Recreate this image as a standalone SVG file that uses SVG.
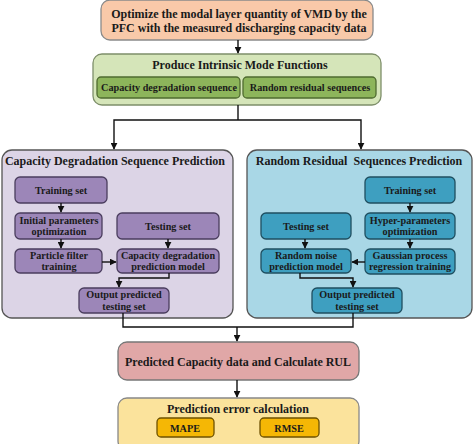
<svg xmlns="http://www.w3.org/2000/svg" width="474" height="444" viewBox="0 0 474 444">
<defs>
<marker id="ah" viewBox="0 0 10 10" refX="9" refY="5" markerWidth="5" markerHeight="5" orient="auto"><path d="M0,0 L10,5 L0,10 z" fill="#111"/></marker>
<style>
text{font-family:"Liberation Serif","Times New Roman",serif;font-weight:bold;fill:#1a1a1a;text-anchor:middle}
.t{font-size:12px}
.s{font-size:10.2px}
.c{fill:none;stroke:#111;stroke-width:1.4;marker-end:url(#ah)}
.l{fill:none;stroke:#111;stroke-width:1.4}
.or{fill:#f9c9a9;stroke:#8a8a8a;stroke-width:1.3}
.gO{fill:#d5e5b9;stroke:#7e8f6a;stroke-width:1.3}
.gI{fill:#8db55b;stroke:#4f6b30;stroke-width:1.3}
.pO{fill:#dcd4e6;stroke:#555;stroke-width:1.3}
.pI{fill:#9c86b8;stroke:#4a3d5e;stroke-width:1.3}
.bO{fill:#a9d7e6;stroke:#555;stroke-width:1.3}
.bI{fill:#3e9fc0;stroke:#1f4f60;stroke-width:1.3}
.rd{fill:#e0a7a7;stroke:#777;stroke-width:1.3}
.yO{fill:#fbe39c;stroke:#888;stroke-width:1.3}
.yI{fill:#f5b705;stroke:#6e5200;stroke-width:1.3}
</style>
</defs>
<g id="top">
<rect class="or" x="101" y="0" width="272" height="40" rx="9"/>
<text class="t" x="239" y="18">Optimize the modal layer quantity of VMD by the</text>
<text class="t" x="239" y="32">PFC with the measured discharging capacity data</text>
</g>
<g id="imf">
<rect class="gO" x="93" y="54" width="288" height="51" rx="9"/>
<text class="t" x="240" y="69">Produce Intrinsic Mode Functions</text>
<rect class="gI" x="97" y="77" width="143" height="21" rx="4"/>
<text class="s" x="169" y="91">Capacity degradation sequence</text>
<rect class="gI" x="243" y="77" width="133" height="21" rx="4"/>
<text class="s" x="310" y="91">Random residual sequences</text>
</g>
<g id="left">
<rect class="pO" x="2" y="150" width="231" height="168" rx="10"/>
<text class="t" x="115" y="165">Capacity Degradation Sequence Prediction</text>
</g>
<g id="l-train"><rect class="pI" x="15" y="177" width="92" height="26" rx="5"/><text class="s" x="61" y="194">Training set</text></g>
<g id="l-init"><rect class="pI" x="15" y="213" width="87" height="26" rx="5"/><text class="s" x="59" y="224">Initial parameters</text><text class="s" x="59" y="235">optimization</text></g>
<g id="l-test"><rect class="pI" x="117" y="213" width="102" height="26" rx="5"/><text class="s" x="168" y="230">Testing set</text></g>
<g id="l-pf"><rect class="pI" x="15" y="249" width="87" height="24" rx="5"/><text class="s" x="59" y="259">Particle filter</text><text class="s" x="59" y="270">training</text></g>
<g id="l-model"><rect class="pI" x="117" y="249" width="102" height="24" rx="5"/><text class="s" x="168" y="259">Capacity degradation</text><text class="s" x="168" y="270">prediction model</text></g>
<g id="l-out"><rect class="pI" x="79" y="288" width="90" height="25" rx="5"/><text class="s" x="124" y="298">Output predicted</text><text class="s" x="124" y="310">testing set</text></g>
<g id="right">
<rect class="bO" x="247" y="150" width="225" height="168" rx="10"/>
<text class="t" x="359" y="165" style="white-space:pre">Random Residual  Sequences Prediction</text>
</g>
<g id="r-train"><rect class="bI" x="365" y="177" width="90" height="26" rx="5"/><text class="s" x="410" y="194">Training set</text></g>
<g id="r-hyper"><rect class="bI" x="365" y="213" width="90" height="26" rx="5"/><text class="s" x="410" y="224">Hyper-parameters</text><text class="s" x="410" y="235">optimization</text></g>
<g id="r-test"><rect class="bI" x="261" y="213" width="90" height="26" rx="5"/><text class="s" x="306" y="230">Testing set</text></g>
<g id="r-gpr"><rect class="bI" x="365" y="249" width="90" height="25" rx="5"/><text class="s" x="410" y="259">Gaussian process</text><text class="s" x="410" y="270">regression training</text></g>
<g id="r-model"><rect class="bI" x="261" y="249" width="90" height="24" rx="5"/><text class="s" x="306" y="259">Random noise</text><text class="s" x="306" y="270">prediction model</text></g>
<g id="r-out"><rect class="bI" x="312" y="288" width="90" height="25" rx="5"/><text class="s" x="357" y="298">Output predicted</text><text class="s" x="357" y="310">testing set</text></g>
<g id="rul">
<rect class="rd" x="118" y="342" width="241" height="38" rx="9"/>
<text class="t" x="238" y="366">Predicted Capacity data and Calculate RUL</text>
</g>
<g id="err">
<rect class="yO" x="118" y="398" width="241" height="52" rx="9"/>
<text class="t" x="238" y="413">Prediction error calculation</text>
<rect class="yI" x="157" y="418" width="57" height="19" rx="4"/>
<text class="s" x="185" y="432">MAPE</text>
<rect class="yI" x="260" y="418" width="59" height="19" rx="4"/>
<text class="s" x="289" y="432">RMSE</text>
</g>
<g id="connectors">
<path class="c" d="M238,40 V53"/>
<path class="l" d="M238,105 V120"/>
<path class="c" d="M238,120 H114 V149"/>
<path class="c" d="M238,120 H361 V149"/>
<path class="c" d="M61,203 V212"/>
<path class="c" d="M61,239 V248"/>
<path class="c" d="M168,239 V248"/>
<path class="c" d="M102,262 H116"/>
<path class="c" d="M169,273 V278 H119 V287"/>
<path class="c" d="M410,203 V212"/>
<path class="c" d="M410,239 V248"/>
<path class="c" d="M305,239 V248"/>
<path class="c" d="M365,262 H352"/>
<path class="c" d="M300,273 V278 H353 V287"/>
<path class="l" d="M123,313 V327 H237"/>
<path class="l" d="M353,313 V327 H237"/>
<path class="c" d="M237,327 V341"/>
<path class="c" d="M237,380 V397"/>
</g>
</svg>
